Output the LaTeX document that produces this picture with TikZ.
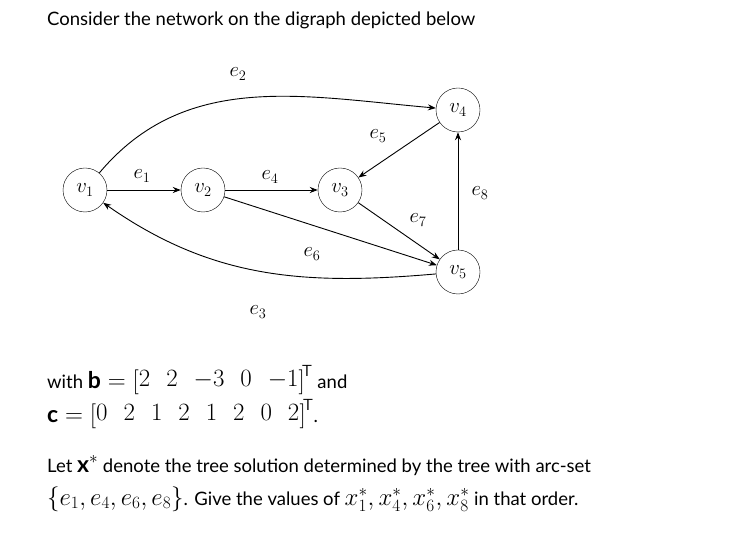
\documentclass[tikz,border=0pt]{standalone}
\usepackage{amsmath}
\usepackage{fontspec}
\setmainfont{Lato}
\usetikzlibrary{arrows.meta}
\newcommand{\Mth}[1]{{\fontsize{23}{23}\selectfont$#1$}}
\begin{document}
\begin{tikzpicture}[x=1pt,y=-1pt,
  vx/.style={circle,draw,minimum size=44pt,inner sep=0pt,font=\fontsize{21}{21}\selectfont},
  ar/.style={-{Stealth[length=8pt,width=6pt]},line width=0.9pt},
  lb/.style={font=\fontsize{21}{21}\selectfont},
  tx/.style={anchor=west,font=\fontsize{18.5}{20}\selectfont,inner sep=0pt}]
\useasboundingbox (0,0) rectangle (748,537);
\node[tx] (t0) at (47,20) {Consider the network on the digraph depicted below};
\node[vx] (v1) at (85,190) {$v_1$};
\node[vx] (v2) at (203,190) {$v_2$};
\node[vx] (v3) at (340,190) {$v_3$};
\node[vx] (v4) at (458,110) {$v_4$};
\node[vx] (v5) at (458,272) {$v_5$};
\draw[ar] (v1) -- (v2);
\draw[ar] (v1) to[out=50,in=175] (v4);
\draw[ar] (v5) to[out=-175,in=-35] (v1);
\draw[ar] (v2) -- (v3);
\draw[ar] (v4) -- (v3);
\draw[ar] (v2) -- (v5);
\draw[ar] (v3) -- (v5);
\draw[ar] (v5) -- (v4);
\node[lb] (l1) at (142,176) {$e_1$};
\node[lb] (l2) at (238,74) {$e_2$};
\node[lb] (l3) at (258,312) {$e_3$};
\node[lb] (l4) at (270,177) {$e_4$};
\node[lb] (l5) at (378,136) {$e_5$};
\node[lb] (l6) at (312,254) {$e_6$};
\node[lb] (l7) at (418,220) {$e_7$};
\node[lb] (l8) at (480,193) {$e_8$};
\node[tx] (t1) at (47,380) {with \Mth{\setlength\arraycolsep{8pt}\mathbf{b}=\begin{bmatrix}2&2&-3&0&-1\end{bmatrix}^{\!\mathsf{T}}} and};
\node[tx] (t2) at (47,414) {\Mth{\setlength\arraycolsep{8pt}\mathbf{c}=\begin{bmatrix}0&2&1&2&1&2&0&2\end{bmatrix}^{\!\mathsf{T}}}.};
\node[tx] (t3) at (47,466) {Let \Mth{\mathbf{x}^*} denote the tree solution determined by the tree with arc-set};
\node[tx] (t4) at (47,499) {\Mth{\{e_1,e_4,e_6,e_8\}}. Give the values of \Mth{x^*_1,x^*_4,x^*_6,x^*_8} in that order.};
\end{tikzpicture}
\end{document}
